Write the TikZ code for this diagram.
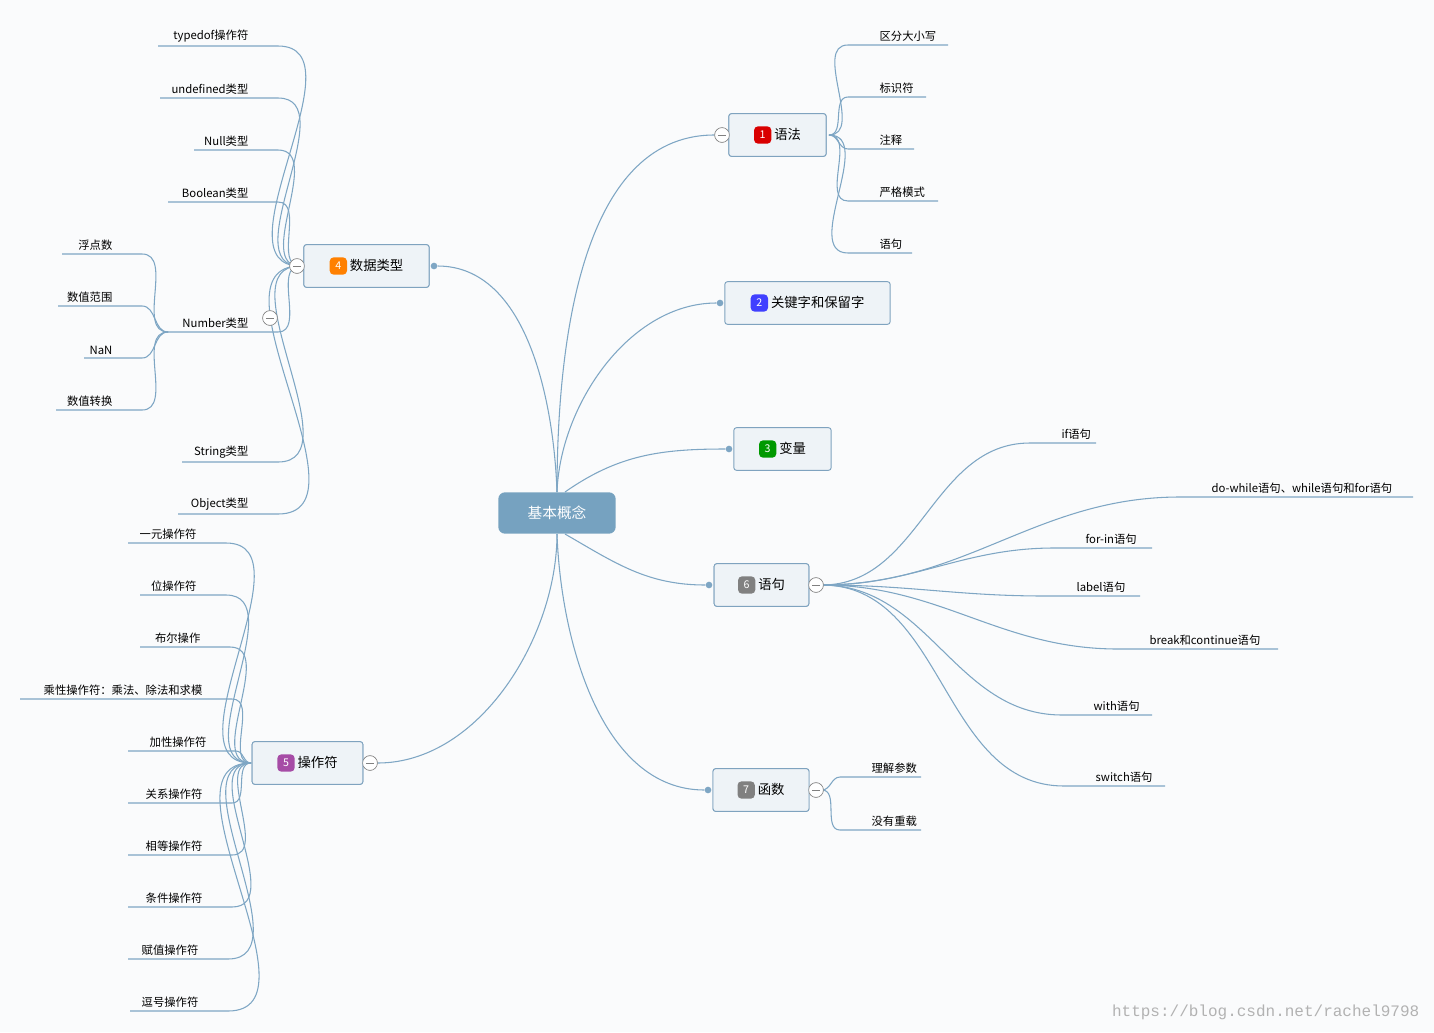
\documentclass[tikz,border=0pt]{standalone}
\usepackage{fontspec}
\setmainfont{Noto Sans CJK SC}
\newfontfamily\wmfont{Liberation Mono}
\definecolor{ln}{HTML}{7EA6C4}
\definecolor{bx}{HTML}{EEF3F7}
\definecolor{bd}{HTML}{7FA3BF}
\definecolor{ctr}{HTML}{76A2C0}
\definecolor{bgc}{HTML}{FAFBFC}
\tikzset{
 conn/.style={draw=ln,line width=0.8pt},
 br/.style={draw=bd,fill=bx,rounded corners=2pt,minimum height=32,line width=0.7pt,font=\fontsize{10}{12}\selectfont},
 lf/.style={font=\fontsize{8.5}{10}\selectfont,inner sep=1pt},
 dotn/.style={circle,fill=ln,inner sep=0,minimum size=5},
 col/.style={circle,draw=gray,fill=white,inner sep=0,minimum size=11},
}
\newcommand{\badge}[2]{\tikz[baseline=-3pt]{\node[fill=#1,rounded corners=3pt,minimum size=13pt,inner sep=0,text=white,font=\fontsize{8}{8}\selectfont\itshape]{#2};}}
\newcommand{\leafR}[6]{% name, start, end, y, text, from
 \coordinate (#1s) at (#2,#4); \coordinate (#1e) at (#3,#4);
 \draw[conn] (#6) to[out=0,in=180] (#1s) -- (#1e);
 \node[lf,anchor=south west] (#1) at ($(#1s)+(30,-2)$) {#5};}
\newcommand{\leafL}[6]{%
 \coordinate (#1s) at (#2,#4); \coordinate (#1e) at (#3,#4);
 \draw[conn] (#6) to[out=180,in=0] (#1e) -- (#1s);
 \node[lf,anchor=south east] (#1) at ($(#1e)+(-28,-2)$) {#5};}
\usetikzlibrary{calc}
\begin{document}
\begin{tikzpicture}[x=0.75pt,y=-0.75pt]
\fill[bgc] (0,0) rectangle (1434,1032);
\useasboundingbox (0,0) rectangle (1434,1032);
% center
\node[fill=ctr,rounded corners=5pt,minimum width=88pt,minimum height=31pt,text=white,font=\fontsize{11}{13}\selectfont] (c) at (557,513) {基本概念};
% branch nodes
\node[br,minimum width=73pt] (b1) at (777.5,135) {\badge{red!85!black}{1} 语法};
\node[br,minimum width=124pt] (b2) at (807.5,303) {\badge{blue!75}{2} 关键字和保留字};
\node[br,minimum width=73pt] (b3) at (782.5,449) {\badge{green!60!black}{3} 变量};
\node[br,minimum width=94pt] (b4) at (366.5,266) {\badge{orange}{4} 数据类型};
\node[br,minimum width=83pt] (b5) at (307.5,763) {\badge{violet!70}{5} 操作符};
\node[br,minimum width=71pt] (b6) at (761.5,585) {\badge{gray}{6} 语句};
\node[br,minimum width=72pt] (b7) at (761,790) {\badge{gray}{7} 函数};
% attach points
\node[col] (k1) at (722,135) {};
\node[dotn] (k2) at (720,303) {};
\node[dotn] (k3) at (729,449) {};
\node[dotn] (k4) at (434,266) {};
\node[col] (k5) at (370,763) {};
\node[dotn] (k6) at (709,585) {};
\node[dotn] (k7) at (708,790) {};
\node[col] (j4) at (297,266) {};
\node[col] (j6) at (816,585) {};
\node[col] (j7) at (816,790) {};
\coordinate (ct) at (557,492); \coordinate (cb) at (557,534);
\begin{scope}[on background layer/.style={}]
\draw[conn] (ct) to[out=90,in=180,looseness=0.9] (k1);
\draw[conn] (ct) to[out=88,in=180,looseness=0.9] (k2);
\draw[conn] (565,492) to[out=35,in=180] (k3);
\draw[conn] (ct) to[out=92,in=0,looseness=0.9] (k4);
\draw[conn] (cb) to[out=-90,in=0,looseness=0.9] (k5);
\draw[conn] (565,534) to[out=-30,in=180] (k6);
\draw[conn] (cb) to[out=-88,in=180,looseness=0.9] (k7);
\end{scope}
% 语法 leaves
\coordinate (f1) at (829,135);
\leafR{a1}{848}{948}{45}{区分大小写}{f1}
\leafR{a2}{848}{926}{97}{标识符}{f1}
\leafR{a3}{848}{914}{149}{注释}{f1}
\leafR{a4}{848}{938}{201}{严格模式}{f1}
\leafR{a5}{848}{912}{253}{语句}{f1}
% 语句 leaves
\coordinate (f6) at (822,585);
\leafR{s1}{1030}{1096}{443}{if语句}{f6}
\leafR{s2}{1180}{1413}{497}{do-while语句、while语句和for语句}{f6}
\leafR{s3}{1054}{1152}{548}{for-in语句}{f6}
\leafR{s4}{1045}{1140}{596}{label语句}{f6}
\leafR{s5}{1118}{1278}{649}{break和continue语句}{f6}
\leafR{s6}{1062}{1152}{715}{with语句}{f6}
\leafR{s7}{1064}{1165}{786}{switch语句}{f6}
% 函数 leaves
\coordinate (f7) at (822,790);
\leafR{h1}{840}{921}{777}{理解参数}{f7}
\leafR{h2}{840}{921}{830}{没有重载}{f7}
% 数据类型 leaves
\coordinate (f4) at (300,266);
\leafL{d1}{158}{278}{46}{typedof操作符}{f4}
\leafL{d2}{160}{278}{98}{undefined类型}{f4}
\leafL{d3}{194}{278}{150}{Null类型}{f4}
\leafL{d4}{168}{278}{202}{Boolean类型}{f4}
\leafL{d5}{168}{278}{332}{Number类型\hspace{30pt}}{f4}
\leafL{d6}{182}{278}{462}{String类型}{f4}
\leafL{d7}{178}{278}{514}{Object类型}{f4}
\node[col] (jn) at (270,318) {};
\coordinate (fn) at (168,332);
\leafL{n1}{62}{142}{254}{浮点数}{fn}
\leafL{n2}{58}{142}{306}{数值范围}{fn}
\leafL{n3}{84}{142}{358}{NaN}{fn}
\leafL{n4}{56}{142}{410}{数值转换}{fn}
% 操作符 leaves
\coordinate (f5) at (251,763);
\leafL{o1}{128}{226}{543}{一元操作符}{f5}
\leafL{o2}{140}{226}{595}{位操作符}{f5}
\leafL{o3}{140}{230}{647}{布尔操作}{f5}
\leafL{o4}{20}{232}{699}{乘性操作符：乘法、除法和求模}{f5}
\leafL{o5}{128}{236}{751}{加性操作符}{f5}
\leafL{o6}{128}{232}{803}{关系操作符}{f5}
\leafL{o7}{128}{232}{855}{相等操作符}{f5}
\leafL{o8}{128}{232}{907}{条件操作符}{f5}
\leafL{o9}{128}{228}{959}{赋值操作符}{f5}
\leafL{o10}{130}{228}{1011}{逗号操作符}{f5}
% redraw nodes on top
\node[br,minimum width=73pt] at (b1) {\badge{red!85!black}{1} 语法};
\node[br,minimum width=94pt] at (b4) {\badge{orange}{4} 数据类型};
\node[br,minimum width=83pt] at (b5) {\badge{violet!70}{5} 操作符};
\node[br,minimum width=71pt] at (b6) {\badge{gray}{6} 语句};
\node[br,minimum width=72pt] at (b7) {\badge{gray}{7} 函数};
\foreach \n in {k1,k5,j4,j6,j7,jn} {\node[col] at (\n) {}; \draw[gray,line width=0.6pt] ($(\n)+(-4,0)$) -- ($(\n)+(4,0)$);}
\node[text=gray!60,font=\wmfont\fontsize{12}{14}\selectfont,anchor=east] (wm) at (1424,1012) {https://blog.csdn.net/rachel9798};
\end{tikzpicture}
\end{document}
